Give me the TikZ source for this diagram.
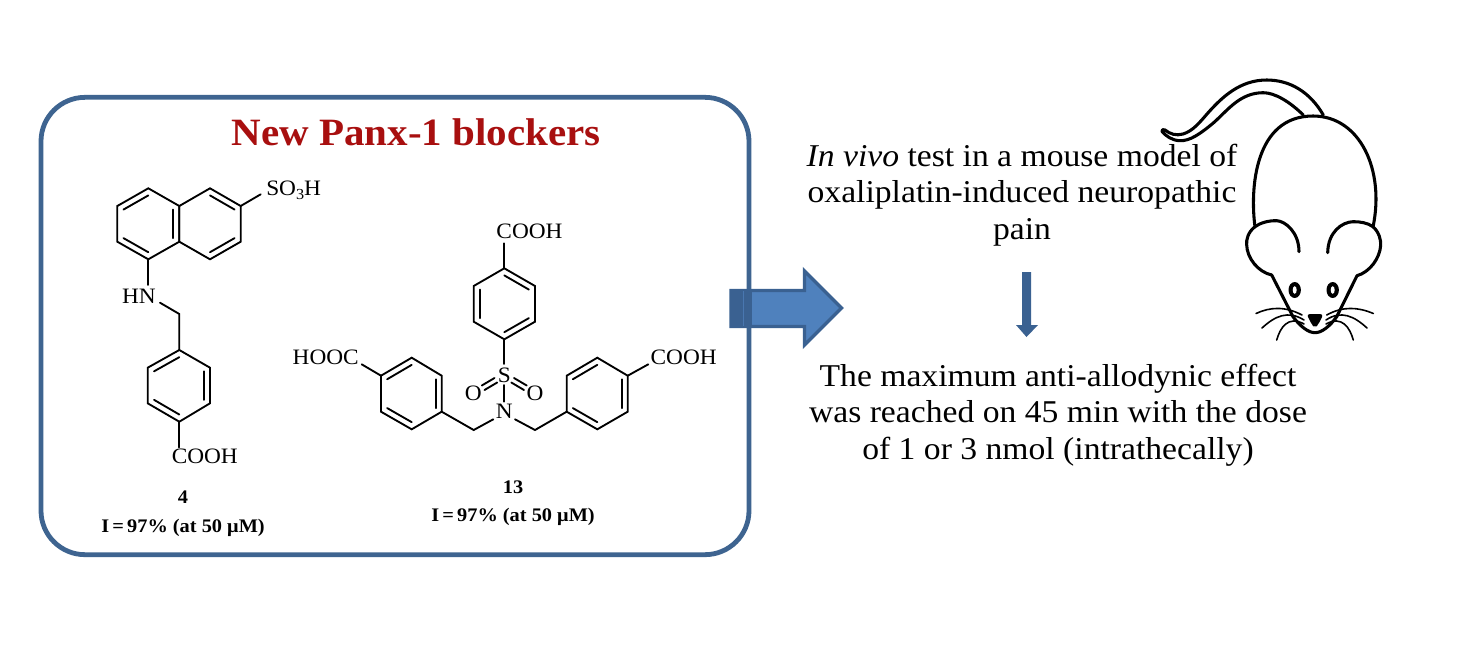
\documentclass[tikz,border=0pt]{standalone}
\usepackage{fontspec}
\setmainfont[FakeStretch=1.06]{Liberation Serif}
\usetikzlibrary{calc}
\definecolor{boxblue}{HTML}{3E6490}
\definecolor{arrowfill}{HTML}{4F81BD}
\definecolor{arrowedge}{HTML}{3A6191}
\definecolor{titlered}{HTML}{A80F0F}
\newcommand{\dbl}[3]{\draw[bond] ($(#1)!.2!(#3)$) -- ($(#2)!.2!(#3)$);}
\newcommand{\hexring}[7]{%
 \coordinate (#1a) at #2; \coordinate (#1b) at #3; \coordinate (#1c) at #4;
 \coordinate (#1d) at #5; \coordinate (#1e) at #6; \coordinate (#1f) at #7;
 \coordinate (#1m) at ($(#1a)!.5!(#1d)$);
 \draw[bond,line join=miter] (#1a) -- (#1b) -- (#1c) -- (#1d) -- (#1e) -- (#1f) -- cycle;}
\tikzset{
 bond/.style={draw=black,line width=1.4pt,line cap=round},
 atom/.style={inner sep=0pt,anchor=base,font=\fontsize{16.5}{18}\selectfont},
 captext/.style={inner sep=0pt,anchor=base,font=\fontsize{14.4}{16}\selectfont\bfseries},
 maintext/.style={inner sep=0pt,anchor=base,font=\fontsize{23.8}{27}\selectfont},
 mouse/.style={draw=black,line width=2.3pt,line cap=round,line join=round},
 whisker/.style={draw=black,line width=1.2pt,line cap=round},
}
\begin{document}
\begin{tikzpicture}[x=.75pt,y=-.75pt]
\useasboundingbox (0,0) rectangle (1465,669);
\fill[white] (0,0) rectangle (1465,669);
% panel
\node[draw=boxblue,line width=3.6pt,rounded corners=33pt,minimum width=531pt,minimum height=343pt,inner sep=0pt] (panel) at (395,326) {};
\node[inner sep=0pt,anchor=base,text=titlered,font=\fontsize{29}{30}\selectfont\bfseries] (title) at (416,145) {New Panx-1 blockers};
% compound 4
\hexring{A}{(148.3,188.3)}{(179.3,206)}{(179.3,241.7)}{(148.3,259.3)}{(117.3,241.7)}{(117.3,206)}
\hexring{B}{(210,188.3)}{(240.7,206)}{(240.7,241.7)}{(210,259.3)}{(179.3,241.7)}{(179.3,206)}
\hexring{C}{(179.3,350)}{(210,367.7)}{(210,403.3)}{(179.3,421.7)}{(147.7,403.3)}{(147.7,367.7)}
\dbl{Aa}{Af}{Am}\dbl{Ae}{Ad}{Am}\dbl{Ab}{Ac}{Am}
\dbl{Ba}{Bb}{Bm}\dbl{Bc}{Bd}{Bm}
\dbl{Cf}{Ca}{Cm}\dbl{Cb}{Cc}{Cm}\dbl{Ce}{Cd}{Cm}
\node[atom,anchor=base west] (so3h) at (266,195) {SO\raisebox{-3.5pt}{\fontsize{11.5}{12}\selectfont 3}H};
\node[atom] (hn) at (139,303.3) {HN};
\node[atom,anchor=base west] (cooha) at (171.5,463.5) {COOH};
\coordinate (so3hend) at (260.7,194.3);
\coordinate (hntop) at (148.3,285);
\coordinate (hnright) at (160,302.7);
\coordinate (ch2a) at (179.3,314);
\coordinate (coohatop) at (179.3,447.3);
\draw[bond] (Bb) -- (so3hend);
\draw[bond] (Ad) -- (hntop);
\draw[bond] (hnright) -- (ch2a) -- (Ca);
\draw[bond] (Cd) -- (coohatop);
\node[captext] (lab4) at (183,503) {4};
\node[captext] (ia) at (183,532.7) {I\,=\,97\% (at 50 μM)};
% compound 13
\hexring{D}{(504.3,268.3)}{(535,286)}{(535,321.7)}{(504.3,339.3)}{(473.7,321.7)}{(473.7,286)}
\hexring{E}{(411.7,357.7)}{(441.7,375.7)}{(441.7,411.7)}{(411.7,429.3)}{(381,411.7)}{(381,375.7)}
\hexring{F}{(597.3,357.7)}{(627.7,375.7)}{(627.7,411.7)}{(597.3,429.3)}{(566.7,411.7)}{(566.7,375.7)}
\dbl{Da}{Db}{Dm}\dbl{Df}{De}{Dm}\dbl{Dc}{Dd}{Dm}
\dbl{Ef}{Ea}{Em}\dbl{Eb}{Ec}{Em}\dbl{Ee}{Ed}{Em}
\dbl{Ff}{Fa}{Fm}\dbl{Fb}{Fc}{Fm}\dbl{Fe}{Fd}{Fm}
\node[atom] (cooht) at (529.5,238.3) {COOH};
\node[atom] (s) at (504.3,382.7) {S};
\node[atom] (ol) at (473.3,400) {O};
\node[atom] (or) at (535,400) {O};
\node[atom] (n) at (504.3,418.3) {N};
\node[atom] (hooc) at (325.7,364.3) {HOOC};
\node[atom] (coohr) at (683.7,364.3) {COOH};
\coordinate (coohtb) at (504.3,243.3);
\coordinate (stop) at (504.3,364);
\coordinate (sbot) at (504.3,385);
\coordinate (ntop) at (504.3,401.7);
\coordinate (nl) at (493.3,419.3);
\coordinate (nr) at (515,419.3);
\coordinate (ch2l) at (473.7,430);
\coordinate (ch2r) at (535,430);
\coordinate (hoocend) at (361.7,364.3);
\coordinate (coohrend) at (648.3,364.3);
\draw[bond] (coohtb) -- (Da);
\draw[bond] (Dd) -- (stop);
\draw[bond] (sbot) -- (ntop);
\draw[bond] (nl) -- (ch2l) -- (Ec);
\draw[bond] (nr) -- (ch2r) -- (Fe);
\draw[bond] (Ef) -- (hoocend);
\draw[bond] (Fb) -- (coohrend);
\coordinate (sol1) at (494.5,378);
\coordinate (sol2) at (481.8,385.5);
\coordinate (sol3) at (497.2,382.5);
\coordinate (sol4) at (484.5,390);
\coordinate (sor1) at (514,378);
\coordinate (sor2) at (526.7,385.5);
\coordinate (sor3) at (511.3,382.5);
\coordinate (sor4) at (524,390);
\draw[bond] (sol1) -- (sol2);
\draw[bond] (sol3) -- (sol4);
\draw[bond] (sor1) -- (sor2);
\draw[bond] (sor3) -- (sor4);
\node[captext] (lab13) at (513,493) {13};
\node[captext] (ib) at (513,521.7) {I\,=\,97\% (at 50 μM)};
% block arrow
\draw[draw=arrowedge,fill=arrowfill,line width=2.6pt,line join=miter] (731,290.5) -- (804.5,290.5) -- (804.5,271) -- (841.5,308) -- (804.5,345) -- (804.5,326.5) -- (731,326.5) -- cycle;
\fill[arrowedge] (730,289) rectangle (752,328);
\draw[draw=arrowfill!70!arrowedge,line width=.6pt] (743,291) -- (743,326);
% text
\node[maintext] (t1) at (1022,166) {\textit{In vivo} test in a mouse model of};
\node[maintext] (t2) at (1022,202.7) {oxaliplatin-induced neuropathic};
\node[maintext] (t3) at (1022,239.3) {pain};
\node[maintext] (t4) at (1058,386) {The maximum anti-allodynic effect};
\node[maintext] (t5) at (1058,422.7) {was reached on 45 min with the dose};
\node[maintext] (t6) at (1058,459) {of 1 or 3 nmol (intrathecally)};
% down arrow
\fill[arrowedge] (1022,272) -- (1031,272) -- (1031,325) -- (1038,325) -- (1026.5,337) -- (1016,325) -- (1022,325) -- cycle;
% mouse
\draw[mouse] (1255,226.7) .. controls (1250,190) and (1254,116) .. (1313,116) .. controls (1360,116) and (1385,170) .. (1373,227);
\draw[mouse] (1299,251.7) .. controls (1299,232) and (1285,221) .. (1276.7,220.7) .. controls (1268,220.5) and (1260,223) .. (1255,226.7) .. controls (1248,232) and (1246,240) .. (1246.7,245) .. controls (1247,258) and (1258,272) .. (1271.7,275);
\draw[mouse] (1327.7,252.7) .. controls (1328,232) and (1342,222) .. (1353,221.7) .. controls (1360,221.5) and (1368,223) .. (1373,226.7) .. controls (1379,232) and (1381,240) .. (1380.7,245) .. controls (1380,258) and (1370,272) .. (1357,275.7);
\draw[mouse] (1271.7,275) -- (1293,316.7) .. controls (1300,326) and (1308,332.7) .. (1315,332.7) .. controls (1322,332.7) and (1330,326) .. (1336.7,316.7) -- (1357,275.7);
\draw[mouse] (1303.3,115) .. controls (1290,102) and (1275,92.7) .. (1263.3,92.7) .. controls (1240,92.7) and (1228,110) .. (1213.3,123) .. controls (1200,134) and (1190,141) .. (1180,140.7) .. controls (1172,140.5) and (1166,136) .. (1162,131.5) .. controls (1161.5,129.5) and (1163,129) .. (1165,130) .. controls (1170,134) and (1176,136) .. (1183,134) .. controls (1193,131) and (1200,122) .. (1207,114) .. controls (1222,97) and (1240,80) .. (1266.7,80) .. controls (1290,80) and (1310,92) .. (1323.3,115);
\fill[black] (1294.7,290) ellipse[x radius=6.2,y radius=8];
\fill[white] (1294.7,290) ellipse[x radius=2,y radius=3.8];
\fill[black] (1332.7,290) ellipse[x radius=6.2,y radius=8];
\fill[white] (1332.7,290) ellipse[x radius=2,y radius=3.8];
\fill[black,rounded corners=2.5pt] (1306.5,314) -- (1323.5,314) -- (1318,325) -- (1315,327.5) -- (1312,325) -- cycle;
\draw[whisker] (1256,313.5) .. controls (1270,307) and (1285,306) .. (1302,315);
\draw[whisker] (1262,328) .. controls (1275,316) and (1288,310) .. (1304,320);
\draw[whisker] (1276.7,340) .. controls (1280,328) and (1288,315) .. (1304,324);
\draw[whisker] (1373.3,313.5) .. controls (1358,307) and (1343,306) .. (1326.7,315);
\draw[whisker] (1367,328) .. controls (1354,316) and (1341,310) .. (1326,320);
\draw[whisker] (1353.3,340) .. controls (1350,328) and (1342,315) .. (1326,324);
\end{tikzpicture}
\end{document}
